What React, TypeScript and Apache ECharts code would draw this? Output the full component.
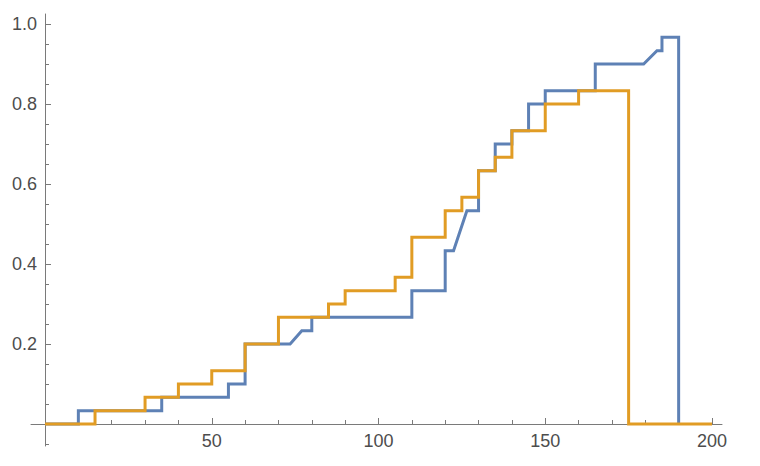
import React, { useEffect, useRef } from 'react';
import * as echarts from 'echarts';

// step outlines: x positions and heights in 30ths
const total = 30;

const blueX = [0, 10, 10, 35, 35, 55, 55, 60, 60, 73.5, 77, 80, 80, 110, 110, 120, 120, 122.5, 126.5, 130, 130, 135, 135, 140, 140, 145, 145, 150, 150, 165, 165, 179.5, 183.5, 185, 185, 190, 190];
const blueCount = [0, 0, 1, 1, 2, 2, 3, 3, 6, 6, 7, 7, 8, 8, 10, 10, 13, 13, 16, 16, 19, 19, 21, 21, 22, 22, 24, 24, 25, 25, 27, 27, 28, 28, 29, 29, 0];

const orangeX = [0, 15, 15, 30, 30, 40, 40, 50, 50, 60, 60, 70, 70, 85, 85, 90, 90, 105, 105, 110, 110, 120, 120, 125, 125, 130, 130, 135, 135, 140, 140, 150, 150, 160, 160, 175, 175, 200];
const orangeCount = [0, 0, 1, 1, 2, 2, 3, 3, 4, 4, 6, 6, 8, 8, 9, 9, 10, 10, 11, 11, 14, 14, 16, 16, 17, 17, 19, 19, 20, 20, 22, 22, 24, 24, 25, 25, 0, 0];

const xMajor = [50, 100, 150, 200];
const xMinor = [10, 20, 30, 40, 60, 70, 80, 90, 110, 120, 130, 140, 160, 170, 180, 190];
const yMajor = [0.2, 0.4, 0.6, 0.8, 1.0];
const yMinor = [-0.05, 0.05, 0.1, 0.15, 0.25, 0.3, 0.35, 0.45, 0.5, 0.55, 0.65, 0.7, 0.75, 0.85, 0.9, 0.95];

const blueColor = '#5E81B5';
const orangeColor = '#E19C24';
const axisColor = '#7a7a7a';
const labelColor = '#4d4d4d';

const toPoints = (xs: number[], counts: number[]) => xs.map((x, i) => [x, counts[i] / total]);

export default function App() {
  const chartRef = useRef<HTMLDivElement>(null);

  useEffect(() => {
    if (!chartRef.current) return;
    const chart = echarts.init(chartRef.current, undefined, { renderer: 'svg' });

    const labelStyle = {
      color: labelColor,
      fontSize: 18,
      fontFamily: 'Liberation Sans, Arial, sans-serif',
    };

    const option: echarts.EChartsOption = {
      animation: false,
      backgroundColor: '#fff',
      grid: {
        left: 31,
        right: 38,
        top: 14,
        bottom: 20,
        containLabel: false,
        outerBoundsMode: 'none',
      } as any,
      xAxis: [
        {
          type: 'value',
          min: -4.2,
          max: 203,
          position: 'bottom',
          axisLine: { show: true, onZero: true, lineStyle: { color: axisColor, width: 1 } },
          axisTick: { show: true, inside: true, length: 6, customValues: xMajor, lineStyle: { color: axisColor } },
          // labels stay at the grid edge, so pull them up to the zero line
          axisLabel: { ...labelStyle, margin: -14, customValues: xMajor, showMinLabel: true, showMaxLabel: true },
          splitLine: { show: false },
        },
        {
          type: 'value',
          min: -4.2,
          max: 203,
          position: 'bottom',
          axisLine: { show: false, onZero: true },
          axisTick: { show: true, inside: true, length: 4, customValues: xMinor, lineStyle: { color: axisColor } },
          axisLabel: { show: false },
          splitLine: { show: false },
        },
      ],
      yAxis: [
        {
          type: 'value',
          min: -0.055,
          max: 1.025,
          position: 'left',
          axisLine: { show: true, onZero: true, lineStyle: { color: axisColor, width: 1 } },
          axisTick: { show: true, inside: true, length: 6, customValues: yMajor, lineStyle: { color: axisColor } },
          axisLabel: {
            ...labelStyle,
            margin: -6,
            customValues: yMajor,
            formatter: (v: number) => v.toFixed(1),
          },
          splitLine: { show: false },
        },
        {
          type: 'value',
          min: -0.055,
          max: 1.025,
          position: 'left',
          axisLine: { show: false, onZero: true },
          axisTick: { show: true, inside: true, length: 4, customValues: yMinor, lineStyle: { color: axisColor } },
          axisLabel: { show: false },
          splitLine: { show: false },
        },
      ],
      series: [
        {
          type: 'line',
          data: toPoints(blueX, blueCount),
          showSymbol: false,
          symbol: 'none',
          lineStyle: { color: blueColor, width: 3, join: 'miter' },
          itemStyle: { color: blueColor },
        },
        {
          type: 'line',
          data: toPoints(orangeX, orangeCount),
          showSymbol: false,
          symbol: 'none',
          lineStyle: { color: orangeColor, width: 3, join: 'miter' },
          itemStyle: { color: orangeColor },
        },
      ],
    };

    chart.setOption(option);

    return () => {
      chart.dispose();
    };
  }, []);

  return (
    <div
      ref={chartRef}
      style={{ position: 'absolute', left: 0, top: 0, width: 760, height: 466 }}
    />
  );
}
